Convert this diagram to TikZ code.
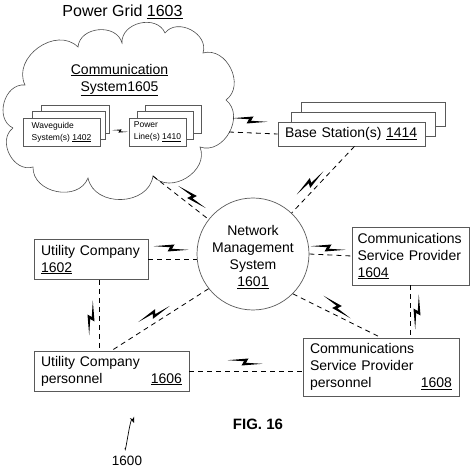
\documentclass[tikz,border=0pt]{standalone}
\usepackage{fontspec}
\setmainfont{Liberation Sans}
\usetikzlibrary{arrows.meta}

\tikzset{
  box/.style={draw=black!65, line width=0.7pt, fill=white, align=left,
    inner xsep=7pt, inner ysep=0pt, font=\fontsize{14}{17}\selectfont},
  tinybox/.style={draw=black!65, line width=0.6pt, fill=white, align=left,
    inner xsep=0pt, inner ysep=0pt, minimum height=28pt,
    font=\fontsize{8.5}{12}\selectfont},
  link/.style={dash pattern=on 5pt off 4pt, line width=0.8pt},
  puff/.style={bend left=80, looseness=1.2},
  bolt/.pic={\fill (-17.5,-1.8) -- (3.5,-3.5) -- (1,0.8) -- (17.5,1.8)
    -- (-3.5,3.5) -- (-1,-0.8) -- cycle;}
}

\begin{document}
\begin{tikzpicture}[x=1pt,y=-1pt,font=\fontsize{14}{17}\selectfont]
  \useasboundingbox (0,0) rectangle (474,470);

  % power grid cloud
  \node[anchor=base,font=\fontsize{16}{19}\selectfont] (gridlbl) at (122.5,17) {Power Grid \underline{1603}};
  \coordinate (c1) at (13,128);
  \coordinate (c2) at (25,85);
  \coordinate (c3) at (78,47);
  \coordinate (c4) at (122,43);
  \coordinate (c5) at (165,33);
  \coordinate (c6) at (203,53);
  \coordinate (c7) at (226,100);
  \coordinate (c8) at (200,147);
  \coordinate (c9) at (153,176);
  \coordinate (c10) at (88,178);
  \coordinate (c11) at (33,167);
  \draw[draw=black!70, line width=0.6pt] (c1)
    \foreach \i in {2,...,11} { to[puff] (c\i) } to[puff] (c1);
  \node[align=center] (commsys) at (119.5,80) {\underline{Communication}\\\underline{System1605}};
  \coordinate (gridR) at (229,132);

  % stacked boxes in the cloud
  \foreach \k/\w in {2/68,1/73} {
    \node[tinybox, minimum width=\w pt] (wg\k) at (23+9*\k+\w/2,132-6.5*\k) {};
    \node[tinybox, minimum width=56pt] (pl\k) at (157.5+8*\k,132-6.5*\k) {};
  }
  \node[tinybox, minimum width=77pt] (wg) at (61.5,132) {Waveguide\\System(s) \underline{1402}};
  \node[tinybox, minimum width=57pt] (pl) at (157.5,132) {Power\\Line(s) \underline{1410}};
  \pic[scale=0.46] at (120,131) {bolt};

  % base stations
  \foreach \k in {2,1}
    \node[box, text width=130pt, minimum height=24pt] (bs\k) at (354+9.5*\k,134-10*\k) {};
  \node[box, text width=133pt, minimum height=24pt] (bs) at (351.5,134) {Base Station(s) \underline{1414}};

  % network management system
  \node[circle, draw=black!65, line width=0.7pt, minimum size=112pt, inner sep=0pt, align=center]
    (nms) at (253,254) {\rule{0pt}{16pt}Network\\Management\\System\\\underline{1601}};

  \node[box, text width=100pt, minimum height=40pt] (uc) at (91,259.5) {Utility Company\\\underline{1602}};
  \node[box, text width=106pt, inner xsep=5.5pt, minimum height=58pt] (csp) at (410.5,256)
    {Communications\\Service Provider\\\underline{1604}};
  \node[box, text width=141pt, minimum height=40pt] (ucp) at (111.5,371)
    {Utility Company\\personnel\hfill\underline{1606}\hspace{5pt}};
  \node[box, text width=142pt, minimum height=58pt] (cspp) at (381,367)
    {Communications\\Service Provider\\personnel\hfill\underline{1608}\hspace{14pt}};

  % wireless links
  \draw[link] (gridR) -- (bs.west);
  \draw[link] ([xshift=3pt]bs.south) -- (nms);
  \draw[link] (c9) -- (nms);
  \draw[link] (uc.east) -- (nms.west |- uc.east);
  \draw[link] (nms.east) -- (csp.west);
  \draw[link] ([xshift=8pt]uc.south) -- ([xshift=8pt]uc.south |- ucp.north);
  \draw[link] (csp.south) -- (csp.south |- cspp.north);
  \draw[link] (nms.218) -- (ucp.north);
  \draw[link] (nms.-45) -- (cspp.north);
  \draw[link] (ucp.east) -- (ucp.east -| cspp.west);

  \pic at (250,120) {bolt};
  \pic[rotate=47] at (310,183) {bolt};
  \pic[rotate=-33] at (192,197) {bolt};
  \pic at (171,248) {bolt};
  \pic at (328,248) {bolt};
  \pic[rotate=-90] at (91,318) {bolt};
  \pic[rotate=-90] at (417,312) {bolt};
  \pic[rotate=33] at (154,314) {bolt};
  \pic[rotate=-34] at (337,307) {bolt};
  \pic at (245,362) {bolt};

  % caption
  \node[font=\bfseries\fontsize{15}{18}\selectfont] (fig) at (258,424) {FIG. 16};
  \node[font=\fontsize{13.5}{16}\selectfont] (ref) at (127,461) {1600};
  \coordinate (tail) at (125,448);
  \coordinate (tip) at (134,423);
  \draw[-{Stealth[length=6pt,width=4.5pt]}, line width=0.7pt] (tail) to[out=-90,in=110] (tip);
\end{tikzpicture}
\end{document}
